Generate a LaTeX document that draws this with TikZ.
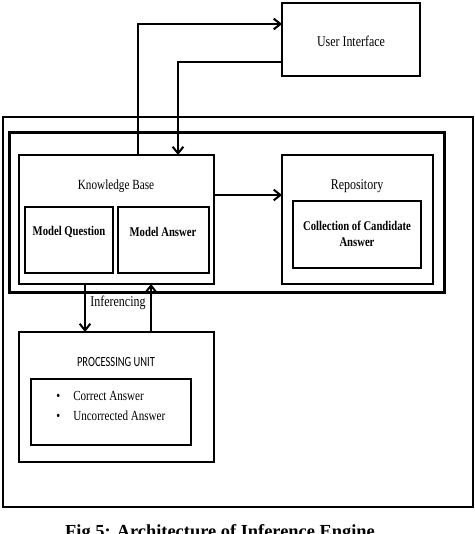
\documentclass[tikz,border=0pt]{standalone}
\usepackage{fontspec}
\setmainfont{Liberation Serif}[FakeStretch=0.8]
\newfontfamily\capfont{Liberation Serif}
\newfontfamily\pufont{Carlito}[FakeStretch=0.75]
\usetikzlibrary{arrows.meta,positioning,fit}

\begin{document}
\begin{tikzpicture}[
    x=0.75pt, y=-0.75pt,
    box/.style={draw=black, line width=1.5pt, inner sep=0pt, outer sep=0pt},
    frame/.style={box, line width=2.25pt},
    txt/.style={font=\fontsize{11.2}{12}\selectfont, align=center, inner sep=0pt},
    btxt/.style={txt, font=\fontsize{10}{12}\selectfont\bfseries},
    arrow/.style={-{Straight Barb[length=5pt,width=8pt]}, line width=1.5pt}
]
\useasboundingbox (0,0) rectangle (474,534);

% Outer frames
\node[box, fit={(3,117) (473,507)}] (engine) {};
\node[frame, fit={(9,133) (444,292)}] (store) {};

% User interface
\node[box, fit={(282,3) (420,76)}] (ui) {};
\node[txt] (uitext) at (351,41) {User Interface};

% Knowledge base
\node[box, fit={(19,155) (214,284)}] (kb) {};
\node[txt, font=\fontsize{10.5}{12}\selectfont] (kbtext) at (116,186) {Knowledge Base};
\node[box, fit={(25,207) (113,273)}] (mq) {};
\node[btxt] (mqtext) at (69,232) {Model Question};
\node[box, fit={(118,207) (209,273)}] (ma) {};
\node[btxt] (matext) at (163,232) {Model Answer};

% Repository
\node[box, fit={(282,155) (433,284)}] (repo) {};
\node[txt] (repotext) at (357,186) {Repository};
\node[box, fit={(293,201) (421,268)}] (coll) {};
\node[btxt] (colltext) at (357,234) {Collection of Candidate\\Answer};

% Processing unit
\node[box, fit={(19,332) (214,462)}] (pu) {};
\node[txt, font=\pufont\fontsize{10.5}{12}\selectfont] (putext) at (116,362) {PROCESSING UNIT};
\node[box, fit={(31,379) (191,445)}] (res) {};
\node[txt, anchor=west, font=\fontsize{10.4}{12}\selectfont] (correct) at (56,396) {\makebox[12.75pt][l]{\textbullet}Correct Answer};
\node[txt, anchor=west, font=\fontsize{10.4}{12}\selectfont] (uncorrect) at (56,416) {\makebox[12.75pt][l]{\textbullet}Uncorrected Answer};

% Arrows
\draw[arrow] ([xshift=21.5*0.75pt]kb.north) |- ([yshift=15.5*0.75pt]ui.west);
\draw[arrow] ([yshift=-22.5*0.75pt]ui.west) -| ([xshift=61.5*0.75pt]kb.north);
\draw[arrow] ([yshift=24.5*0.75pt]kb.east) -- ([yshift=24.5*0.75pt]repo.west);
\draw[arrow] ([xshift=-31.5*0.75pt]kb.south) -- ([xshift=-31.5*0.75pt]pu.north);
\draw[arrow] ([xshift=34.5*0.75pt]pu.north) -- ([xshift=34.5*0.75pt]kb.south);
\node[txt] (inferencing) at (118,303) {Inferencing};

% Caption
\node[font=\capfont\fontsize{13.8}{16}\selectfont\bfseries, anchor=base] (caption) at (220,537) {Fig 5: Architecture of Inference Engine};

\end{tikzpicture}
\end{document}
